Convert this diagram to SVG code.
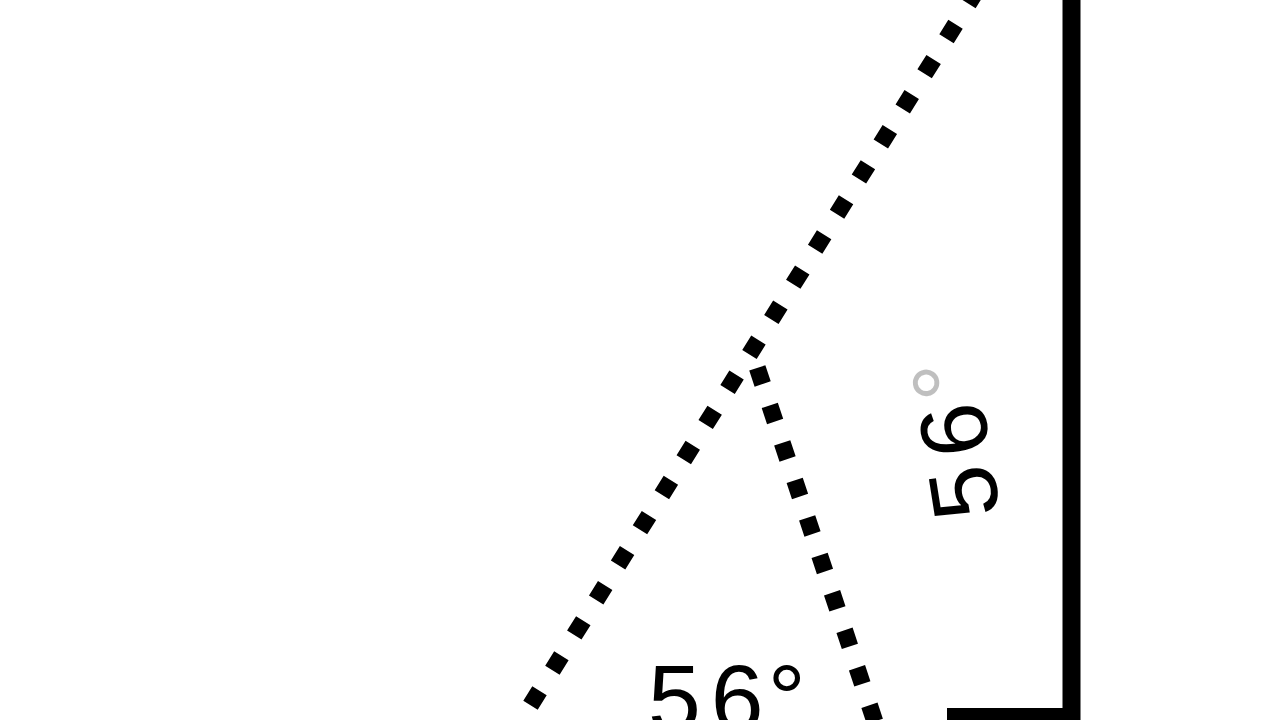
<svg xmlns="http://www.w3.org/2000/svg" width="1280" height="720" viewBox="0 0 1280 720">
  <style>
    .dots { fill: none; stroke: #000; stroke-width: 17; }
    .solid { fill: none; stroke: #000; stroke-width: 18; stroke-linejoin: miter; stroke-linecap: butt; }
    .label { font-family: "Liberation Sans", Arial, sans-serif; font-size: 95px; fill: #000; letter-spacing: 10px; }
  </style>
  <rect x="0" y="0" width="1280" height="720" fill="#fff"/>
  <g id="connectors">
    <line id="dotted-long" class="dots" x1="508.6" y1="740.3" x2="983.2" y2="-20" stroke-dasharray="17 24.35"/>
    <line id="dotted-short" class="dots" x1="757.3" y1="367.9" x2="881" y2="740" stroke-dasharray="17 22.5"/>
    <polyline id="right-angle" class="solid" points="947,717 1071.5,717 1071.5,-10"/>
  </g>
  <g id="label-bottom">
    <text class="label" x="648" y="731">56<tspan dx="-6">°</tspan></text>
  </g>
  <g id="label-side">
    <text class="label" transform="translate(1000.6 513.4) rotate(-99)">56<tspan dx="-4" fill-opacity="0.25">°</tspan></text>
  </g>
</svg>
